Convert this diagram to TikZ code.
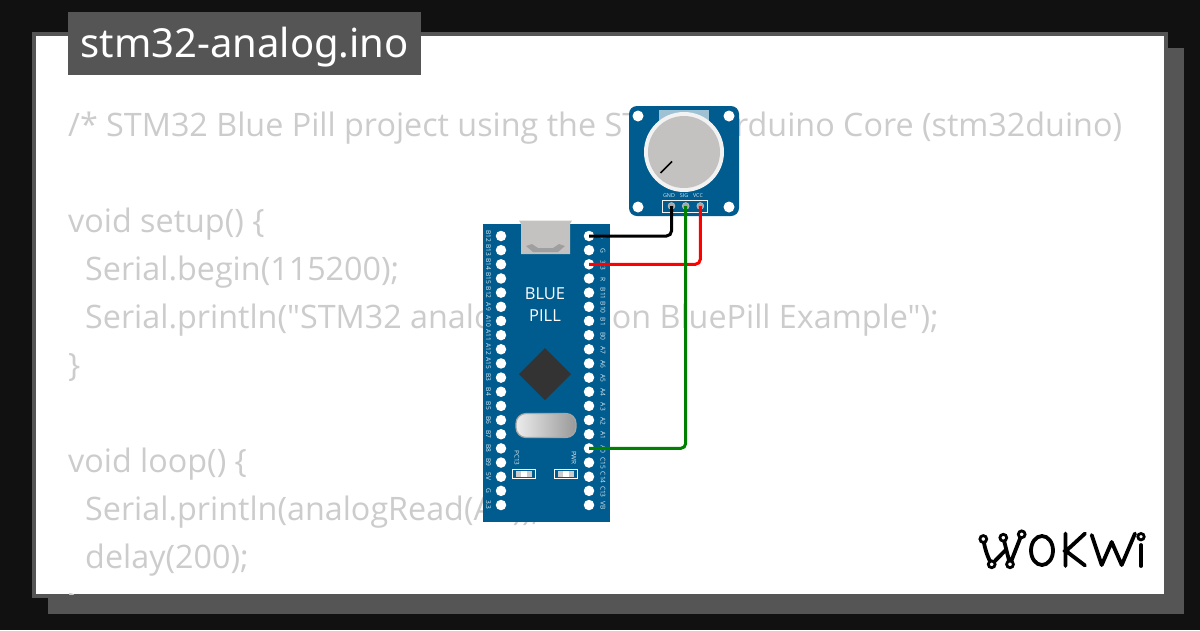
\documentclass[tikz,border=0pt]{standalone}
\usepackage{fontspec}
\setmainfont{Open Sans}
\newfontfamily\codefont{Open Sans}
\newfontfamily\titlefont{Noto Sans}
\usetikzlibrary{positioning}
\definecolor{pagebg}{HTML}{111111}
\definecolor{framegray}{HTML}{555555}
\definecolor{codegray}{HTML}{CCCCCC}
\definecolor{pcbblue}{HTML}{005C8E}
\definecolor{usbgray}{HTML}{C4C2C0}
\definecolor{wiregreen}{HTML}{008000}

\tikzset{
    codeline/.style={anchor=base west,inner sep=0pt,text=codegray,font=\codefont\fontsize{32.3}{32}\selectfont},
    pinhole/.style={circle,fill=white,minimum size=10.5pt,inner sep=0pt},
    pinlabel/.style={rotate=-90,inner sep=0pt,text=white!85!pcbblue,font=\fontsize{6.6}{6.6}\selectfont},
    potpin/.style={circle,fill=gray!70,draw=gray!40,minimum size=7pt,inner sep=0pt},
    potlabel/.style={inner sep=0pt,text=white!85!pcbblue,font=\fontsize{5.4}{5.4}\selectfont},
    ledbox/.style={draw=white,fill=pcbblue,line width=1pt,minimum width=23pt,minimum height=9pt,inner sep=0pt},
    wire/.style={line width=3pt,rounded corners=5pt},
    logo/.style={line width=3.8pt,line cap=round,line join=round},
    logodot/.style={line width=2.8pt}
}

\begin{document}
\begin{tikzpicture}[x=1pt,y=-1pt]
    \useasboundingbox (0,0) rectangle (1200,630);
    \fill[pagebg] (0,0) rectangle (1200,630);

    % card and shadow
    \fill[framegray] (48,48) rectangle (1184,614);
    \fill[framegray] (32,32) rectangle (1168,598);
    \fill[white] (36,36) rectangle (1164,594);

    % code behind the circuit
    \begin{scope}
        \clip (36,36) rectangle (1164,594);
        \node[codeline] (code1) at (68,136) {/* STM32 Blue Pill project using the STM32 Arduino Core (stm32duino)};
        \node[codeline] (code2) at (68,232) {void setup() \{};
        \node[codeline] (code3) at (85,280) {Serial.begin(115200);};
        \node[codeline] (code4) at (85,328) {Serial.println("STM32 analog reads on BluePill Example");};
        \node[codeline] (code5) at (68,376) {\}};
        \node[codeline] (code6) at (68,472) {void loop() \{};
        \node[codeline] (code7) at (85,520) {Serial.println(analogRead(A0));};
        \node[codeline] (code8) at (85,568) {delay(200);};
        \node[codeline] (code9) at (68,616) {\}};
    \end{scope}

    % title tab
    \node[fill=framegray,text=white,anchor=north west,minimum width=353pt,text height=45pt,text depth=18pt,inner sep=0pt,
          font=\titlefont\fontsize{40}{40}\selectfont] (title) at (68,12) {stm32-analog.ino};

    % blue pill board
    \fill[pcbblue] (482.5,223.5) rectangle (609.5,522);
    \fill[usbgray] (519,220.5) -- (572,220.5) -- (570,224) -- (570,254) -- (521,254) -- (521,224) -- cycle;
    \fill[gray!75] (526,246) -- (532,244) -- (538,248) -- (553,248) -- (559,244) -- (565,246) -- (558,252) -- (533,252) -- cycle;
    \node[inner sep=0pt,text=white,font=\fontsize{16.5}{16.5}\selectfont] (blue) at (545,294) {BLUE};
    \node[inner sep=0pt,text=white,font=\fontsize{16.5}{16.5}\selectfont] (pill) at (545,316) {PILL};
    \fill[black!80] (545,348) -- (571,374) -- (545,400) -- (519,374) -- cycle;
    \draw[gray!70,line width=1.2pt,left color=white!85!gray,right color=gray!80,rounded corners=10pt]
        (516,413.5) rectangle (576,437.5);

    \foreach \lab [count=\i] in {B12,B13,B14,B15,B12,A9,A10,A11,A12,A15,B3,B4,B5,B6,B7,B8,B9,5V,G,3.3}{
        \node[pinhole] (l\i) at (501,{236+(\i-1)*14.16}) {};
        \node[pinlabel] (ll\i) at (488.5,{236+(\i-1)*14.16}) {\lab};
    }
    \foreach \lab [count=\i] in {5,G,3.3,R,B11,B10,B1,B0,A7,A6,A5,A4,A3,A2,A1,A0,C15,C14,C13,VB}{
        \node[pinhole] (r\i) at (589,{236+(\i-1)*14.16}) {};
        \node[pinlabel] (rl\i) at (603,{237+(\i-1)*14.16}) {\lab};
    }

    \node[ledbox] (pc13) at (524,474) {};
    \node[ledbox] (pwr) at (566,474) {};
    \fill[gray!40] (516,471) rectangle (532,477);
    \fill[white] (521,471) rectangle (527,477);
    \fill[gray!40] (558,471) rectangle (574,477);
    \fill[white] (563,471) rectangle (569,477);
    \node[pinlabel,font=\fontsize{6.4}{6.4}\selectfont] (pc13lab) at (517,458) {PC13};
    \node[pinlabel,font=\fontsize{6.4}{6.4}\selectfont] (pwrlab) at (574,458) {PWR};

    % potentiometer
    \fill[pcbblue,rounded corners=8pt] (629,106) rectangle (739,216);
    \fill[white!62!pcbblue] (659,110) rectangle (709,130);
    \foreach \hx/\hy [count=\i] in {638/116,729/116,638/207,729/207}
        \fill[white] (\hx,\hy) circle (5.5);
    \fill[white!90!gray] (684,152) circle (40);
    \fill[usbgray] (684,152) circle (36);
    \draw[black,line width=1.5pt] (660.5,173) -- (672,161.5);
    \draw[white!90!gray,line width=1pt] (662,200) rectangle (707,212);
    \node[potlabel] (gndlab) at (669,196) {GND};
    \node[potlabel] (siglab) at (684,196) {SIG};
    \node[potlabel] (vcclab) at (698,196) {VCC};
    \node[potpin] (gnd) at (671.5,206) {};
    \node[potpin] (sig) at (685.7,206) {};
    \node[potpin] (vcc) at (700.3,206) {};

    % wires
    \draw[wire,black] (r1.center) -- (r1.center -| gnd.center) -- (gnd.center);
    \draw[wire,red] (r3.center) -- (r3.center -| vcc.center) -- (vcc.center);
    \draw[wire,wiregreen] (r16.center) -- (r16.center -| sig.center) -- (sig.center);

    % wokwi logo
    \draw[logo] (983.3,539) .. controls (985,550) and (988,558) .. (991.7,564.3);
    \draw[logo] (991.7,564.3) -- (1005.7,550);
    \draw[logo] (1003.3,537.7) -- (1010,564.3) -- (1021.7,534.3);
    \foreach \dx/\dy in {983.3/539,991.7/564.3,1003.3/537.7,1010/564.3,1021.7/534.3}
        \draw[logodot,fill=white] (\dx,\dy) circle (3.4);
    \draw[logo] (1042,550.5) ellipse (11 and 14.5);
    \draw[logo] (1065.5,533.5) -- (1065.5,566) (1085,533.5) -- (1066,551) -- (1085,565.5);
    \draw[logodot,fill=white] (1066,551) circle (1.6);
    \draw[logo] (1091.7,535) -- (1101.7,565) -- (1111.7,542) -- (1121.7,565) -- (1135,533.5);
    \draw[logo] (1141,545) -- (1141,566);
    \draw[logodot,fill=white] (1141,536.7) circle (3.2);
\end{tikzpicture}
\end{document}
